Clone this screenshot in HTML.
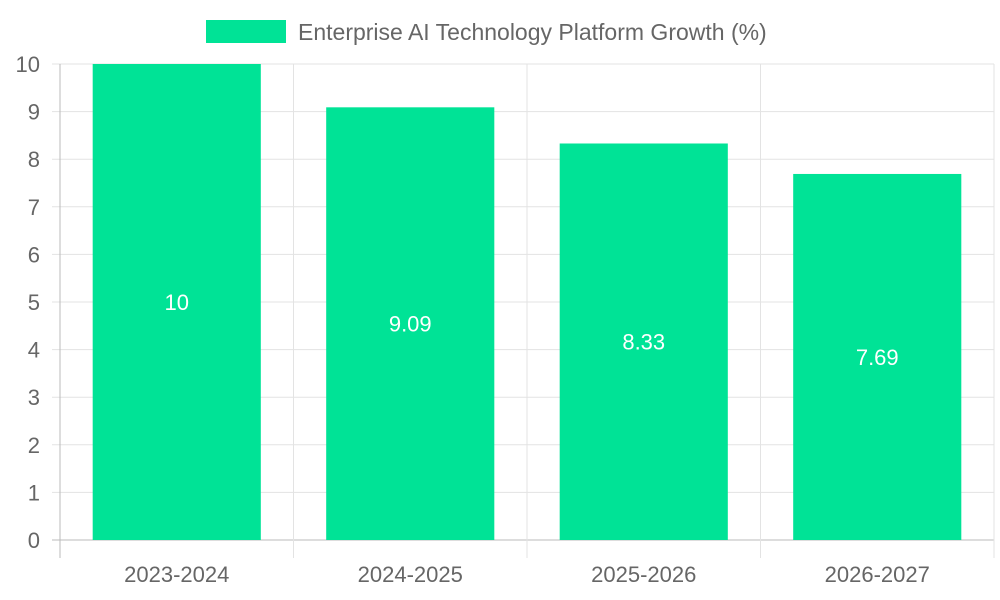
<!DOCTYPE html>
<html><head><meta charset="utf-8"><style>
html,body{margin:0;padding:0;background:#fff;width:1000px;height:600px;overflow:hidden}
svg{display:block;font-family:"Liberation Sans",sans-serif}
</style></head><body>
<svg id="chart" width="1000" height="600">
<g id="grid"></g>
<g id="bars"></g>
<g id="axes"></g>
<g>
<rect x="206" y="20" width="80" height="23" fill="#00e396"/>
<text x="298" y="40" font-size="23" fill="#666">Enterprise AI Technology Platform Growth (%)</text>
</g>
</svg>
<script>
const categories=["2023-2024","2024-2025","2025-2026","2026-2027"];
const values=[10,9.09,8.33,7.69];
const yTicks=[0,1,2,3,4,5,6,7,8,9,10];
const L=60,R=994,T=64,B=540,yMax=10;
const ns="http://www.w3.org/2000/svg";
const y=v=>B-(v/yMax)*(B-T);
const band=(R-L)/categories.length;
const x=i=>L+band*i;
function mk(tag,attrs,parent,txt){const e=document.createElementNS(ns,tag);for(const k in attrs)e.setAttribute(k,attrs[k]);if(txt!==undefined)e.textContent=txt;document.getElementById(parent).appendChild(e);return e;}
yTicks.forEach(t=>{
 const g=mk("line",{x1:52,x2:R,y1:y(t),y2:y(t),stroke:t===0?"#bbb":"#e3e3e3","stroke-width":1},"grid");
 
 
 const l=mk("text",{x:40,y:y(t)+8,"text-anchor":"end","font-size":22,fill:"#666"},"axes",String(t));
 
 
});
for(let i=0;i<=categories.length;i++){
 const g=mk("line",{x1:x(i),x2:x(i),y1:T,y2:558,stroke:i===0?"#bbb":"#e3e3e3","stroke-width":1},"grid");
 
 
}
categories.forEach((c,i)=>{
 const w=band*0.72,bx=x(i)+(band-w)/2,by=y(values[i]);
 const r=mk("rect",{x:bx,y:by,width:w,height:B-by,fill:"#00e396"},"bars");
 
 
 const v=mk("text",{x:x(i)+band/2,y:(by+B)/2+8,"text-anchor":"middle","font-size":22,fill:"#fff"},"bars",String(values[i]));
 
 
 const l=mk("text",{x:x(i)+band/2,y:582,"text-anchor":"middle","font-size":22,fill:"#666"},"axes",c);
 
 
});
</script>
</body></html>
